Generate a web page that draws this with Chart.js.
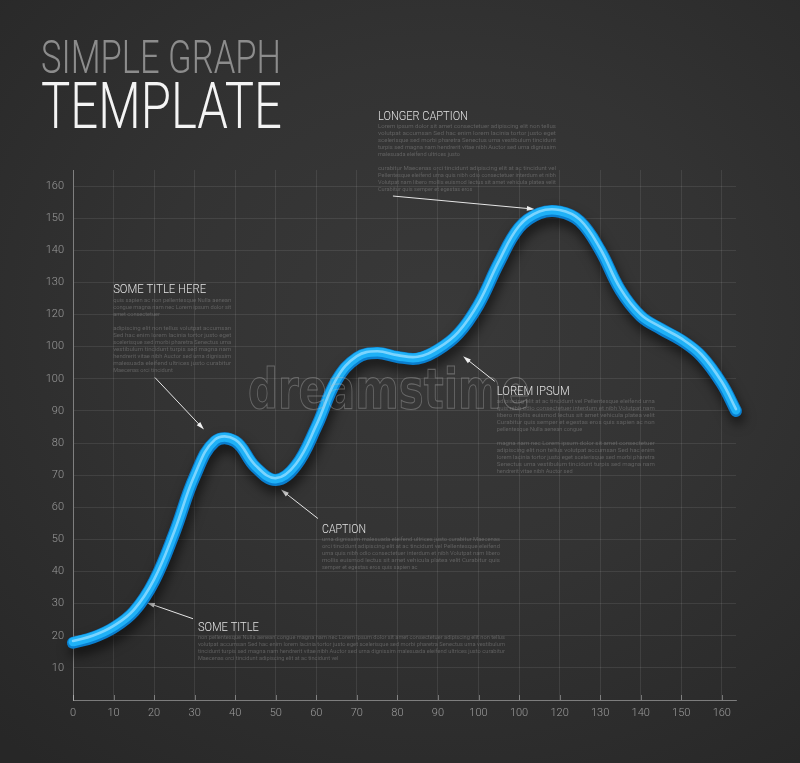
<!DOCTYPE html>
<html><head><meta charset="utf-8">
<script src="https://cdn.jsdelivr.net/npm/chart.js@4.4.0/dist/chart.umd.min.js"></script>
<style>
html,body{margin:0;padding:0;width:800px;height:763px;overflow:hidden;}
body{background: radial-gradient(ellipse 80% 75% at 55% 42%, #393939 0%, #333333 45%, #272727 100%);}
canvas{display:block}
</style></head><body>
<canvas id="c" width="800" height="763"></canvas>
<script>
// ---- data ----
const xValues = [0,5,10,15,20,25,30,35,40,45,50,55,60,65,70,75,80,85,90,95,100,105,110,115,120,125,130,135,140,145,150,155,160,163.5];
const yValues = [17.8,19.5,22.5,27.5,37,52,69.5,80.5,80.5,72.5,68.5,73,85,99.5,106.5,108,106.8,106.3,109,114,123,136,147,151.5,152,149,140,127.5,119.5,115.5,112,107,98.5,90];
const xTickValues = [0,10,20,30,40,50,60,70,80,90,100,110,120,130,140,150,160];
const xTickLabels = ['0','10','20','30','40','50','60','70','80','90','100','100','120','130','140','150','160'];
const yTickValues = [0,10,20,30,40,50,60,70,80,90,100,110,120,130,140,150,160];
const yTickLabels = ['','10','20','30','40','50','60','70','80','90','100','100','120','130','140','150','160'];

const captionTitles = ['LONGER CAPTION','SOME TITLE HERE','LOREM IPSUM','CAPTION','SOME TITLE'];
const loremWords = ('Lorem ipsum dolor sit amet consectetuer adipiscing elit non tellus volutpat accumsan Sed hac enim lorem lacinia tortor justo eget scelerisque sed morbi pharetra Senectus urna vestibulum tincidunt turpis sed magna nam hendrerit vitae nibh Auctor sed urna dignissim malesuada eleifend ultrices justo curabitur Maecenas orci tincidunt adipiscing elit at ac tincidunt vel Pellentesque eleifend urna quis nibh odio consectetuer interdum et nibh Volutpat nam libero mollis euismod lectus sit amet vehicula platea velit Curabitur quis semper et egestas eros quis sapien ac non pellentesque Nulla aenean congue magna nam nec').split(' ');
// annotation layout: title anchor & arrow in data units
const notes = [
 {t:0, x:75.2, y:180.6, tw:90, w:178, paras:[5,4], arrow:[[78.9,156.9],[113.9,152.8]]},
 {t:1, x:9.9,  y:126.6, tw:93, w:118, paras:[3,7], arrow:[[20.2,100.4],[32.3,84.2]]},
 {t:2, x:104.5,y:95.1,  tw:73, w:158, paras:[5,5], arrow:[[104,99.2],[96.2,107]]},
 {t:3, x:61.4, y:52.1,  tw:44, w:178, paras:[5],   arrow:[[60.4,56.5],[51.3,65.5]]},
 {t:4, x:30.8, y:21.5,  tw:61, w:307, paras:[4],   arrow:[[29.6,25.3],[18.2,30.3]]}
];

const pts = xValues.map((x,i)=>({x:x, y:yValues[i]}));

function fitText(ctx, text, x, y, w, stroke){
  const m = ctx.measureText(text).width;
  ctx.save(); ctx.translate(x,y); ctx.scale(w/m,1);
  if(stroke) ctx.strokeText(text,0,0); else ctx.fillText(text,0,0);
  ctx.restore();
}
let wi = 0;
function nextLine(ctx, w){
  let s = '';
  while(true){
    const cand = s ? s+' '+loremWords[wi%loremWords.length] : loremWords[wi%loremWords.length];
    if(ctx.measureText(cand).width > w && s) break;
    s = cand; wi++;
  }
  return s;
}
function arrow(ctx,x1,y1,x2,y2){
  const a = Math.atan2(y2-y1,x2-x1), L=8, H=2.4;
  ctx.save();
  ctx.strokeStyle='#e6e6e6'; ctx.fillStyle='#f0f0f0'; ctx.lineWidth=1;
  ctx.beginPath(); ctx.moveTo(x1,y1); ctx.lineTo(x2-Math.cos(a)*L*0.7,y2-Math.sin(a)*L*0.7); ctx.stroke();
  ctx.beginPath(); ctx.moveTo(x2,y2);
  ctx.lineTo(x2-Math.cos(a)*L - Math.sin(a)*H, y2-Math.sin(a)*L + Math.cos(a)*H);
  ctx.lineTo(x2-Math.cos(a)*L + Math.sin(a)*H, y2-Math.sin(a)*L - Math.cos(a)*H);
  ctx.closePath(); ctx.fill();
  ctx.restore();
}

const decor = {
  id:'decor',
  beforeDatasetsDraw(chart){
    const ctx = chart.ctx, xs = chart.scales.x, ys = chart.scales.y;
    ctx.save();
    ctx.strokeStyle='rgba(255,255,255,0.35)'; ctx.lineWidth=1;
    xTickValues.forEach(v=>{ const px=Math.round(xs.getPixelForValue(v))+0.5;
      ctx.beginPath(); ctx.moveTo(px,ys.bottom); ctx.lineTo(px,ys.bottom-5); ctx.stroke(); });
    ctx.restore();
    wi = 0;
    notes.forEach(n=>{
      const px = xs.getPixelForValue(n.x), py = ys.getPixelForValue(n.y);
      ctx.save();
      ctx.fillStyle='#e2e2e2'; ctx.font='300 13px Roboto';
      fitText(ctx, captionTitles[n.t], px, py, n.tw);
      ctx.fillStyle='rgba(140,140,140,0.5)'; ctx.font='5.6px Roboto';
      let yy = py + 8.5;
      n.paras.forEach(cnt=>{
        for(let k=0;k<cnt;k++){
          const last = (k===cnt-1 && cnt>1);
          const target = last ? n.w*0.55 : n.w;
          const txt = nextLine(ctx, target);
          const m = ctx.measureText(txt).width;
          fitText(ctx, txt, px, yy, last ? Math.min(m, target) : target);
          yy += 7;
        }
        yy += 7;
      });
      ctx.restore();
      arrow(ctx, xs.getPixelForValue(n.arrow[0][0]), ys.getPixelForValue(n.arrow[0][1]),
                 xs.getPixelForValue(n.arrow[1][0]), ys.getPixelForValue(n.arrow[1][1]));
    });
  },
  afterDraw(chart){
    const ctx = chart.ctx;
    ctx.save();
    ctx.textBaseline='alphabetic';
    ctx.fillStyle='#8c8c8c'; ctx.font='300 46px Roboto';
    fitText(ctx,'SIMPLE GRAPH',41,73,240);
    ctx.fillStyle='#f4f4f4'; ctx.font='300 65px Roboto';
    fitText(ctx,'TEMPLATE',41,128,241);
    // watermark
    ctx.strokeStyle='rgba(185,185,185,0.38)'; ctx.lineWidth=1.1; ctx.font='bold 56px "DejaVu Sans"';
    fitText(ctx,'dreamstime',248,408,282,true);
    ctx.restore();
  }
};
// shadow under the tube and slight upward offset of the lighter layers
const tubeStyle = {
  id:'tubeStyle',
  beforeDatasetDraw(chart,args){
    const c=chart.ctx; c.save();
    if(args.index===0){ c.shadowColor='rgba(0,0,0,0.6)'; c.shadowBlur=12; c.shadowOffsetY=7; c.shadowOffsetX=2; }
    else if(args.index===1){ c.translate(0,-1); }
    else if(args.index===2){ c.translate(0,-1.8); }
  },
  afterDatasetDraw(chart){ chart.ctx.restore(); }
};

const common = {pointRadius:0, borderCapStyle:'round', borderJoinStyle:'round', tension:0.4, clip:false, fill:false};
new Chart(document.getElementById('c'), {
  type:'line',
  data:{ datasets:[
    Object.assign({data:pts, borderColor:'#0a7fcf', borderWidth:12, order:3}, common),
    Object.assign({data:pts, borderColor:'#1fb1f7', borderWidth:9, order:2}, common),
    Object.assign({data:pts, borderColor:'rgba(140,218,255,0.85)', borderWidth:2.6, order:1}, common)
  ]},
  options:{
    responsive:false, animation:false, devicePixelRatio:1,
    layout:{padding:{top:170,right:64,left:0,bottom:0}},
    plugins:{legend:{display:false}, tooltip:{enabled:false}},
    scales:{
      x:{type:'linear', min:0, max:163.5,
        afterBuildTicks:s=>{s.ticks = xTickValues.map(v=>({value:v}));},
        afterFit:s=>{s.height=63;},
        ticks:{autoSkip:false, maxRotation:0, padding:7, color:'#9c9c9c', font:{family:'Roboto', size:11, weight:'300'},
          callback:(v,i)=>xTickLabels[i]},
        grid:{color:'rgba(255,255,255,0.085)', drawTicks:false},
        border:{color:'rgba(255,255,255,0.33)', width:1}
      },
      y:{type:'linear', min:0, max:165,
        afterBuildTicks:s=>{s.ticks = yTickValues.map(v=>({value:v}));},
        afterFit:s=>{s.width=73;},
        ticks:{padding:9, color:'#9c9c9c', font:{family:'Roboto', size:11, weight:'300'},
          callback:(v,i)=>yTickLabels[i]},
        grid:{color:'rgba(255,255,255,0.085)', drawTicks:false},
        border:{color:'rgba(255,255,255,0.33)', width:1}
      }
    }
  },
  plugins:[tubeStyle, decor]
});
</script>
</body></html>
